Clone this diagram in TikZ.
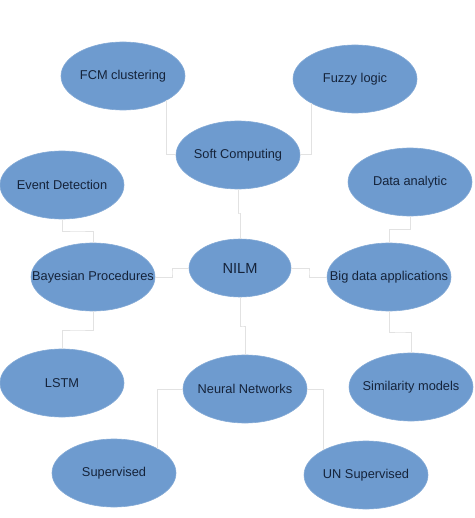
\documentclass[tikz,border=0pt]{standalone}
\usepackage{fontspec}
\setmainfont{Liberation Sans}
\usetikzlibrary{shapes.geometric,calc}
\definecolor{ellfill}{HTML}{6E9BCF}
\definecolor{elltext}{HTML}{15233A}
\definecolor{linkgray}{HTML}{E2E2E2}
\newcommand{\ztext}[1]{\makebox[0pt][c]{#1}}
\tikzset{
  topic/.style={ellipse, fill=ellfill, draw=ellfill!85!white, line width=0.6pt, inner sep=0pt,
    minimum width=124pt, minimum height=68pt, text=elltext, font=\fontsize{12.8}{14}\selectfont},
  hub/.style={topic, minimum width=102pt, minimum height=58pt, font=\fontsize{14.6}{16}\selectfont},
  link/.style={draw=linkgray, line width=1pt}
}
\begin{document}
\begin{tikzpicture}[x=1pt,y=-1pt]
\useasboundingbox (0,0) rectangle (474,518);
\node[topic] (fcm) at (123,76) {\ztext{FCM clustering}};
\node[topic] (fuz) at (355,79) {\ztext{Fuzzy logic}};
\node[topic] (soft) at (238,155) {\ztext{Soft Computing}};
\node[topic] (evt) at (62,185) {\ztext{Event Detection}};
\node[topic] (dat) at (410,182) {\ztext{Data analytic}};
\node[hub] (nilm) at (240,268) {\ztext{NILM}};
\node[topic] (bay) at (93,277) {\ztext{Bayesian Procedures}};
\node[topic] (big) at (389,277) {\ztext{Big data applications}};
\node[topic] (lstm) at (62,383) {\ztext{LSTM}};
\node[topic] (neu) at (245,389) {\ztext{Neural Networks}};
\node[topic] (sim) at (411,387) {\ztext{Similarity models}};
\node[topic] (sup) at (114,473) {\ztext{Supervised}};
\node[topic] (uns) at (366,475) {\ztext{UN Supervised}};

\draw[link] (fcm.331) |- (soft.west);
\draw[link] (fuz.209) |- (soft.east);
\draw[link] (soft.south) |- ($(soft.south)!0.5!(nilm.north)$) -| (nilm.north);
\draw[link] (evt.south) |- ($(evt.south)!0.5!(bay.north)$) -| (bay.north);
\draw[link] (dat.south) |- ($(dat.south)!0.5!(big.north)$) -| (big.north);
\draw[link] (nilm.west) -| ($(nilm.west)!0.5!(bay.east)$) |- (bay.east);
\draw[link] (nilm.east) -| ($(nilm.east)!0.5!(big.west)$) |- (big.west);
\draw[link] (bay.south) |- ($(bay.south)!0.5!(lstm.north)$) -| (lstm.north);
\draw[link] (big.south) |- ($(big.south)!0.5!(sim.north)$) -| (sim.north);
\draw[link] (nilm.south) |- ($(nilm.south)!0.5!(neu.north)$) -| (neu.north);
\draw[link] (neu.west) -| (sup.29);
\draw[link] (neu.east) -| (uns.150);
\end{tikzpicture}
\end{document}
